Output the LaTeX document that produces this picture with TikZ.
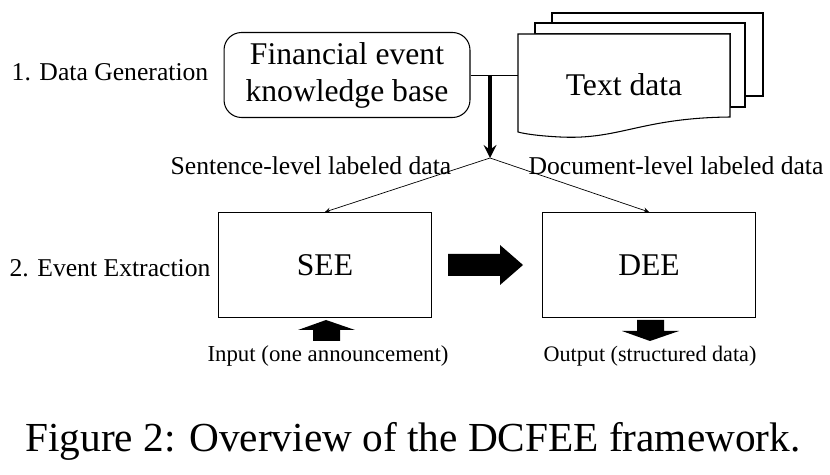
\documentclass[tikz,border=0pt]{standalone}
\usepackage{fontspec}
\setmainfont{Liberation Serif}
\usetikzlibrary{arrows,shapes,positioning}
\begin{document}
\begin{tikzpicture}[x=0.02cm,y=-0.02cm,
    box/.style={draw,semithick,minimum width=4.26cm,minimum height=2.1cm,font=\fontsize{18}{21}\selectfont},
    lbl/.style={font=\fontsize{14.6}{17}\selectfont},
    blk/.style={fill=black}]
\useasboundingbox (0,0) rectangle (830,475);

% data generation
\node [draw,semithick,rounded corners=0.35cm,minimum width=4.92cm,minimum height=1.7cm,align=center,
  font=\fontsize{18}{21}\selectfont] (kb) at (347,75) {Financial event\\knowledge base};
\draw [semithick,fill=white] (552,13) -- (763,13) -- (763,96) -- (745,96) -- (745,23) -- (552,23) -- cycle;
\draw [semithick,fill=white] (535,23) -- (745,23) -- (745,107) -- (730,107) -- (730,34) -- (535,34) -- cycle;
\draw [semithick,fill=white] (518,34) -- (730,34) -- (730,117)
  .. controls (640,118) and (620,140) .. (560,137) .. controls (540,136) and (525,134) .. (518,132) -- cycle;
\node [font=\fontsize{18}{21}\selectfont] (txt) at (624,85) {Text data};
\coordinate (doc) at (518,75);
\coordinate (j) at (490,75);
\coordinate (split) at (490,158);
\draw (kb.east) -- (doc);
\draw [line width=2.2pt,-stealth] (j) -- (split);

% event extraction
\node [box] (see) at (325,265) {SEE};
\node [box] (dee) at (649,265) {DEE};
\draw [-stealth] (split) -- (see.north);
\draw [-stealth] (split) -- (dee.north);
\fill [blk] (448,254) -- (500,254) -- (500,245) -- (523,265) -- (500,285) -- (500,276) -- (448,276) -- cycle;
\fill [blk] (313,341) -- (313,330) -- (298,330) -- (326,320) -- (355,330) -- (340,330) -- (340,341) -- cycle;
\fill [blk] (637,320) -- (637,331) -- (622,331) -- (650,341) -- (679,331) -- (664,331) -- (664,320) -- cycle;

% labels
\node [lbl] at (110,72) {1. Data Generation};
\node [lbl] at (110,268) {2. Event Extraction};
\node [lbl] at (311,166) {Sentence-level labeled data};
\node [lbl] at (676,166) {Document-level labeled data};
\node [font=\fontsize{13}{15}\selectfont] at (328,356) {Input (one announcement)};
\node [font=\fontsize{12.6}{15}\selectfont] at (650,356) {Output (structured data)};
\node [font=\fontsize{23.5}{27}\selectfont] at (413,441) {Figure 2: Overview of the DCFEE framework.};
\end{tikzpicture}
\end{document}
